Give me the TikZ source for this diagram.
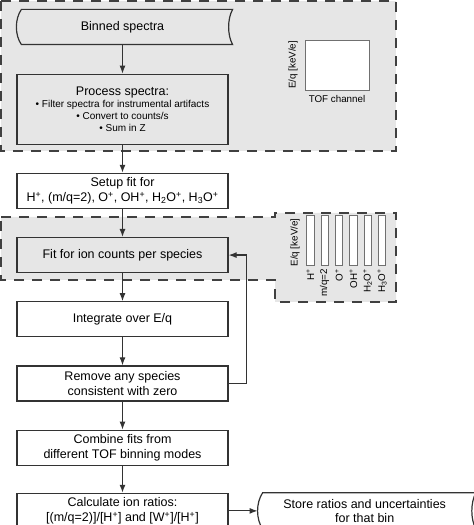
\documentclass[tikz,border=0pt]{standalone}
\usepackage{fontspec}
\setmainfont{Liberation Sans}
\usetikzlibrary{positioning,calc,arrows.meta,backgrounds}

\definecolor{regiongray}{HTML}{E6E6E6}
\definecolor{linegray}{HTML}{333333}
\definecolor{dashgray}{HTML}{404040}
\definecolor{panelgray}{HTML}{707070}

\begin{document}
\begin{tikzpicture}[
    x=1pt, y=1pt,
    node distance=28pt,
    box/.style={rectangle, draw=linegray, line width=1.2pt, fill=white, text width=207pt, align=flush center, minimum width=211pt, minimum height=35pt, inner sep=2pt, font=\fontsize{12.5}{14.5}\selectfont},
    graybox/.style={box, fill=regiongray},
    region/.style={draw=dashgray, line width=1.8pt, dash pattern=on 10pt off 8pt, fill=regiongray},
    storeline/.style={draw=linegray, line width=1.2pt},
    arrow/.style={-{Latex[length=8pt,width=6pt]}, line width=1.2pt, draw=linegray},
    panel/.style={draw=panelgray, line width=0.9pt, fill=white},
    small/.style={font=\fontsize{9.8}{11}\selectfont}
]
\useasboundingbox (0,0) rectangle (474,525);

% main column
\node[box, draw=none, fill=none, minimum height=34pt] (binned) at (122.5,498) {Binned spectra};
\node[graybox, minimum height=70pt, below=29pt of binned] (process) {Process spectra:\par
    {\fontsize{10}{12}\selectfont \textbullet\ Filter spectra for instrumental artifacts\\
    \textbullet\ Convert to counts/s\\ \textbullet\ Sum in Z\par}};
\node[box, below=of process] (setup) {Setup fit for\\
    H\textsuperscript{+}, (m/q=2), O\textsuperscript{+}, OH\textsuperscript{+}, H\textsubscript{2}O\textsuperscript{+}, H\textsubscript{3}O\textsuperscript{+}};
\node[graybox, below=of setup] (fit) {Fit for ion counts per species};
\node[box, below=of fit] (integrate) {Integrate over E/q};
\node[box, below=of integrate] (remove) {Remove any species\\consistent with zero};
\node[box, below=of remove] (combine) {Combine fits from\\different TOF binning modes};
\node[box, below=27pt of combine] (calc) {Calculate ion ratios:\\
    {[}(m/q=2)]/[H\textsuperscript{+}] and [W\textsuperscript{+}]/[H\textsuperscript{+}]};
\node[box, draw=none, fill=none, minimum width=213pt, text width=207pt, right=29pt of calc] (store) {Store ratios and uncertainties\\for that bin};

% TOF panel
\node[panel, minimum width=64pt, minimum height=50pt] (tof) at (337,460) {};
\node[small, rotate=90] (tofeq) at (293,460) {E/q [keV/e]};
\node[small, below=1pt of tof] (tofx) {TOF channel};

% species bars
\foreach \lab [count=\i from 0] in {H\textsuperscript{+}, m/q=2, O\textsuperscript{+}, OH\textsuperscript{+}, H\textsubscript{2}O\textsuperscript{+}, H\textsubscript{3}O\textsuperscript{+}} {
    \node[panel, minimum width=7.3pt, minimum height=49.7pt, inner sep=0pt] (bar\i) at (310.3+14.34*\i,284.2) {};
    \node[small, rotate=90, anchor=east, inner sep=1pt] (lab\i) at ([yshift=-2pt]bar\i.south) {\lab};
}
\node[small, rotate=90] (bareq) at (295,282.5) {E/q [keV/e]};

% backgrounds and stored-data shapes
\begin{scope}[on background layer]
    \draw[region] (1,524) rectangle (396,374);
    \draw[region] (1,308) -- (275,308) -- (275,312) -- (396,312) -- (396,223) -- (275,223) -- (275,245) -- (1,245) -- cycle;
    \draw[storeline, fill=regiongray] ($(binned.north west)+(5,0)$) -- ($(binned.north east)+(4,0)$)
        .. controls ($(binned.east)+(-1.3,8)$) and ($(binned.east)+(-1.3,-8)$) .. ($(binned.south east)+(4,0)$)
        -- ($(binned.south west)+(5,0)$)
        .. controls ($(binned.west)+(-1.7,-8)$) and ($(binned.west)+(-1.7,8)$) .. cycle;
    \draw[storeline, fill=white] ($(store.north west)+(5,0)$) -- ($(store.north east)+(4,0)$)
        .. controls ($(store.east)+(-1.3,8)$) and ($(store.east)+(-1.3,-8)$) .. ($(store.south east)+(4,0)$)
        -- ($(store.south west)+(5,0)$)
        .. controls ($(store.west)+(-1.7,-8)$) and ($(store.west)+(-1.7,8)$) .. cycle;
\end{scope}

% connectors
\draw[arrow] (binned) -- (process);
\draw[arrow] (process) -- (setup);
\draw[arrow] (setup) -- (fit);
\draw[arrow] (fit) -- (integrate);
\draw[arrow] (integrate) -- (remove);
\draw[arrow] (remove.east) -- ++(18,0) |- (fit.east);
\draw[arrow] (remove) -- (combine);
\draw[arrow] (combine) -- (calc);
\draw[arrow] (calc) -- (store);

\end{tikzpicture}
\end{document}
